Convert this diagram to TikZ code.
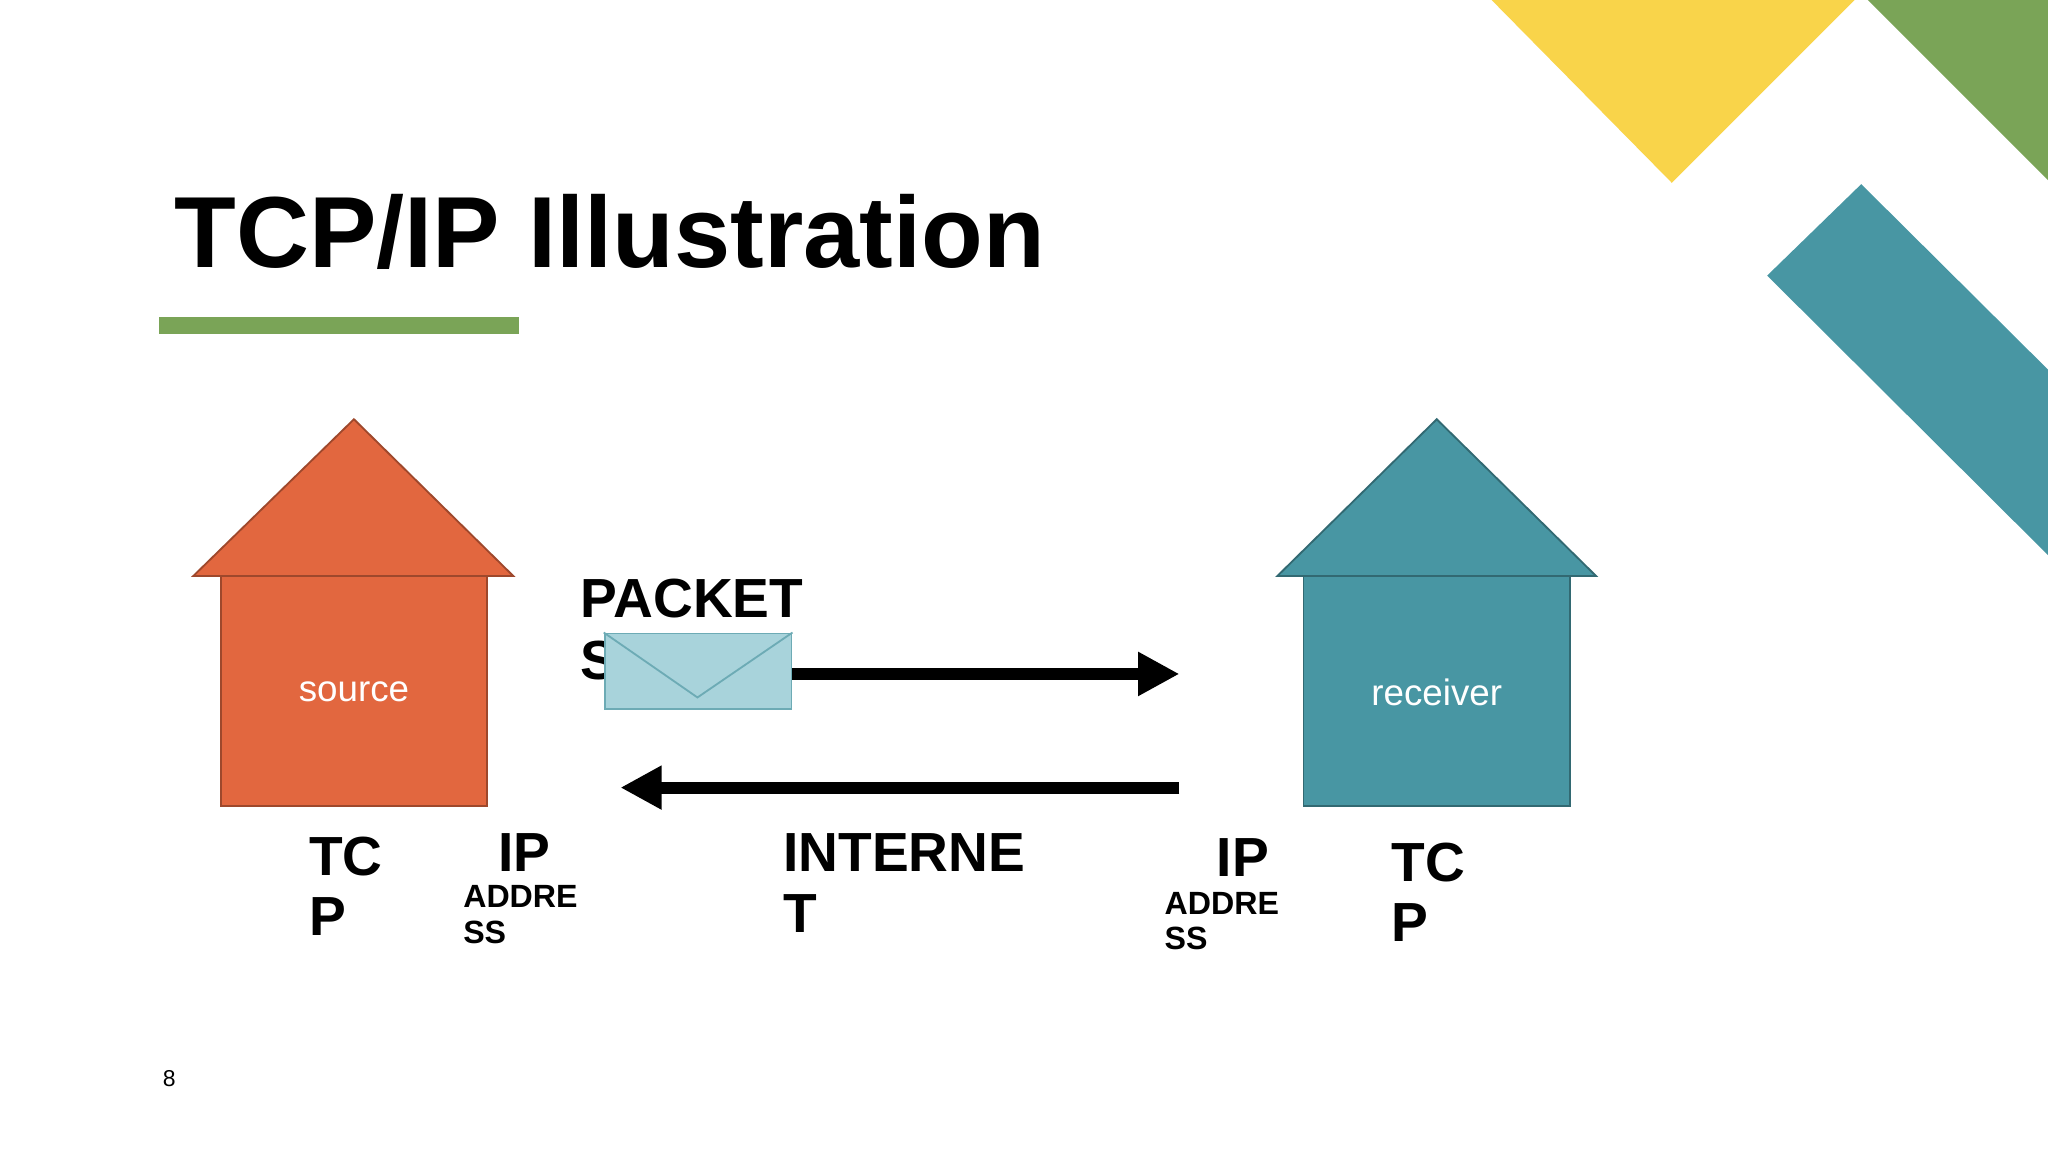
\documentclass[tikz,border=0pt]{standalone}
\usepackage{fontspec}
\setmainfont{Liberation Sans}
\usetikzlibrary{arrows.meta}
\definecolor{yel}{HTML}{F9D44A}
\definecolor{grn}{HTML}{7AA457}
\definecolor{teal}{HTML}{4896A3}
\definecolor{org}{HTML}{E2673F}
\definecolor{env}{HTML}{A8D3DB}
\begin{document}
\begin{tikzpicture}[x=0.01cm,y=-0.01cm,
  lbl/.style={anchor=base west,inner sep=0pt,font=\fontsize{12}{14}\bfseries\selectfont},
  sml/.style={anchor=base west,inner sep=0pt,font=\fontsize{7}{8}\bfseries\selectfont},
  hlab/.style={text=white,font=\fontsize{8}{10}\selectfont},
  arr/.style={line width=2.6pt,-{Triangle[length=9pt,width=9pt]}}]
\useasboundingbox (0,0) rectangle (1568,882);
\fill[white] (0,0) rectangle (1568,882);
\fill[yel] (1142,0) -- (1420,0) -- (1280,140) -- cycle;
\fill[grn] (1430,0) -- (1568,0) -- (1568,138) -- cycle;
\fill[teal] (1425,141) -- (1568,283) -- (1568,425) -- (1353,211) -- cycle;
\node[anchor=base west,inner sep=0pt,font=\fontsize{22}{26}\bfseries\selectfont] (title) at (133,205) {TCP/IP Illustration};
\fill[grn] (122,243) rectangle (397,256);
% source house
\draw[fill=org,draw=org!70!black] (148,441) -- (393,441) -- (271,321) -- cycle;
\draw[fill=org,draw=org!70!black] (169,441) rectangle (373,617);
\node[hlab] (src) at (271,530) {source};
% receiver house
\draw[fill=teal,draw=teal!70!black] (978,441) -- (1222,441) -- (1100,321) -- cycle;
\draw[fill=teal,draw=teal!70!black] (998,441) rectangle (1202,617);
\node[hlab] (rcv) at (1100,530) {receiver};
% labels
\node[lbl] (pk1) at (444,473) {PACKET};
\node[lbl] (pk2) at (444,520) {S};
% envelope
\node[draw=teal!80!white,fill=env,minimum width=1.43cm,minimum height=0.58cm,inner sep=0pt] (envl) at (534.5,514) {};
\draw[teal!80!white] (envl.north west) -- (534,534) -- (envl.north east);
\coordinate (rEnd) at (903,516);
\coordinate (lStart) at (903,603);
\coordinate (lEnd) at (475,603);
\draw[arr] (envl.east |- rEnd) -- (rEnd);
\draw[arr] (lStart) -- (lEnd);
\node[lbl] (t1) at (236,670) {TC};
\node[lbl] (t2) at (236,716) {P};
\node[lbl] (ip1) at (381,667) {IP};
\node[sml] (a1) at (354,695) {ADDRE};
\node[sml] (a2) at (354,722) {SS};
\node[lbl] (in1) at (599,667) {INTERNE};
\node[lbl] (in2) at (599,714) {T};
\node[lbl] (ip2) at (931,671) {IP};
\node[sml] (b1) at (891,700) {ADDRE};
\node[sml] (b2) at (891,727) {SS};
\node[lbl] (t3) at (1065,675) {TC};
\node[lbl] (t4) at (1065,721) {P};
\node[anchor=base west,inner sep=0pt,font=\fontsize{5}{6}\selectfont] (pg) at (124,832) {8};
\end{tikzpicture}
\end{document}
